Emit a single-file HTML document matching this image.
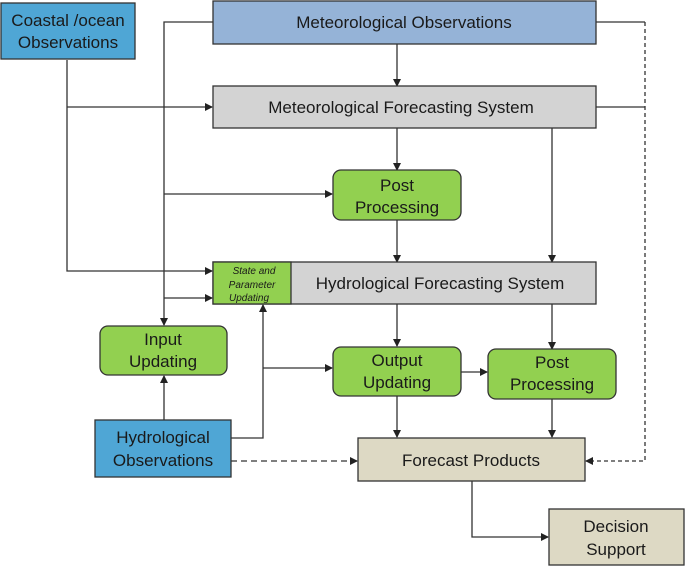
<!DOCTYPE html>
<html><head><meta charset="utf-8"><style>
html,body{margin:0;padding:0;background:#fff;}
svg{display:block;}
text{font-family:"Liberation Sans",sans-serif;fill:#1a1a1a;}
</style></head><body>
<svg width="685" height="566" viewBox="0 0 685 566" xmlns="http://www.w3.org/2000/svg">
<defs>
<marker id="a" markerWidth="8" markerHeight="8" refX="7" refY="4" orient="auto" markerUnits="userSpaceOnUse">
<path d="M0,0 L8,4 L0,8 z" fill="#222"/></marker>
</defs>
<g stroke="#333" stroke-width="1.3" fill="none">
<!-- left vertical from Met Obs -->
<polyline points="213,22 164,22 164,325" marker-end="url(#a)"/>
<line x1="164" y1="194" x2="332" y2="194" marker-end="url(#a)"/>
<line x1="164" y1="298" x2="212" y2="298" marker-end="url(#a)"/>
<!-- coastal -->
<polyline points="67,60 67,271 212,271" marker-end="url(#a)"/>
<line x1="67" y1="107" x2="212" y2="107" marker-end="url(#a)"/>
<!-- center -->
<line x1="397" y1="44" x2="397" y2="86" marker-end="url(#a)"/>
<line x1="397" y1="128" x2="397" y2="170" marker-end="url(#a)"/>
<line x1="397" y1="220" x2="397" y2="262" marker-end="url(#a)"/>
<line x1="552" y1="128" x2="552" y2="262" marker-end="url(#a)"/>
<line x1="397" y1="304" x2="397" y2="346" marker-end="url(#a)"/>
<line x1="552" y1="304" x2="552" y2="349" marker-end="url(#a)"/>
<line x1="397" y1="396" x2="397" y2="437" marker-end="url(#a)"/>
<line x1="552" y1="399" x2="552" y2="437" marker-end="url(#a)"/>
<line x1="461" y1="372" x2="487" y2="372" marker-end="url(#a)"/>
<!-- right -->
<line x1="596" y1="22" x2="645" y2="22"/>
<line x1="596" y1="107" x2="645" y2="107"/>
<polyline points="645,22 645,461 586,461" stroke-dasharray="4,3" marker-end="url(#a)"/>
<!-- hydro obs -->
<polyline points="231,438 263,438 263,305" marker-end="url(#a)"/>
<line x1="263" y1="368" x2="332" y2="368" marker-end="url(#a)"/>
<line x1="164" y1="420" x2="164" y2="376" marker-end="url(#a)"/>
<line x1="231" y1="461" x2="357" y2="461" stroke-dasharray="6,4" marker-end="url(#a)"/>
<polyline points="472,481 472,537 548,537" marker-end="url(#a)"/>
</g>
<g stroke="#333" stroke-width="1.3">
<rect x="1" y="3" width="134" height="56" fill="#4fa6d5"/>
<rect x="213" y="1" width="383" height="43" fill="#95b3d7"/>
<rect x="213" y="86" width="383" height="42" fill="#d3d3d3"/>
<rect x="333" y="170" width="128" height="50" rx="8" fill="#92d050"/>
<rect x="213" y="262" width="383" height="42" fill="#d3d3d3"/>
<rect x="213" y="262" width="78" height="42" fill="#92d050"/>
<rect x="100" y="326" width="127" height="49" rx="8" fill="#92d050"/>
<rect x="333" y="347" width="128" height="49" rx="8" fill="#92d050"/>
<rect x="488" y="349" width="128" height="50" rx="8" fill="#92d050"/>
<rect x="95" y="420" width="136" height="57" fill="#4fa6d5"/>
<rect x="358" y="438" width="227" height="43" fill="#ddd9c4"/>
<rect x="549" y="509" width="135" height="56" fill="#ddd9c4"/>
</g>
<g font-size="17" text-anchor="middle">
<text x="68" y="26">Coastal /ocean</text>
<text x="68" y="48">Observations</text>
<text x="404" y="28">Meteorological Observations</text>
<text x="401" y="113">Meteorological Forecasting System</text>
<text x="397" y="191">Post</text>
<text x="397" y="213">Processing</text>
<text x="440" y="289">Hydrological Forecasting System</text>
<text x="163" y="345">Input</text>
<text x="163" y="367">Updating</text>
<text x="397" y="366">Output</text>
<text x="397" y="388">Updating</text>
<text x="552" y="368">Post</text>
<text x="552" y="390">Processing</text>
<text x="163" y="443">Hydrological</text>
<text x="163" y="466">Observations</text>
<text x="471" y="466">Forecast Products</text>
<text x="616" y="532">Decision</text>
<text x="616" y="555">Support</text>
</g>
<g font-size="10" font-style="italic" text-anchor="middle">
<text x="254" y="274">State  and</text>
<text x="252" y="288">Parameter</text>
<text x="249" y="301">Updating</text>
</g>
</svg>
</body></html>
